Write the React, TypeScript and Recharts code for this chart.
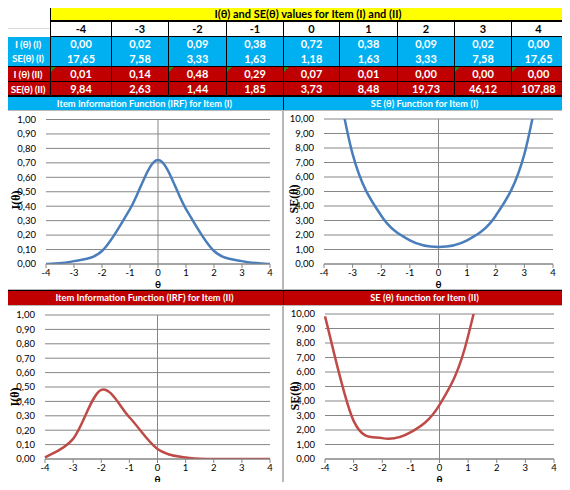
import React from 'react';
import { LineChart, Line, XAxis, YAxis, CartesianGrid, ReferenceLine, Label } from 'recharts';

const thetas = [-4, -3, -2, -1, 0, 1, 2, 3, 4];
const infoItem1 = [0.0, 0.02, 0.09, 0.38, 0.72, 0.38, 0.09, 0.02, 0.0];
const seItem1 = [17.65, 7.58, 3.33, 1.63, 1.18, 1.63, 3.33, 7.58, 17.65];
const infoItem2 = [0.01, 0.14, 0.48, 0.29, 0.07, 0.01, 0.0, 0.0, 0.0];
const seItem2 = [9.84, 2.63, 1.44, 1.85, 3.73, 8.48, 19.73, 46.12, 107.88];

const infoTicks = [0, 0.1, 0.2, 0.3, 0.4, 0.5, 0.6, 0.7, 0.8, 0.9, 1];
const seTicks = [0, 1, 2, 3, 4, 5, 6, 7, 8, 9, 10];

const rowLabels = ['I (θ) (I)', 'SE(θ) (I)', 'I (θ) (II)', 'SE(θ) (II)'];
const rowValues = [infoItem1, seItem1, infoItem2, seItem2];
// cells of the I(θ)(II) row showing Excel's green error marker
const flagged = [true, false, true, true, true, false, false, true, true];

const FONT = 'Lato, "Open Sans", sans-serif';
const BLUE = '#00B0F0';
const RED = '#C00000';
const GRID = '#868686';
const colEdges = [50, 111, 168, 226, 283, 339, 397, 454, 511, 566];
const rowTops = [37, 52, 66, 81, 96];

const fmt = (v: number) => v.toFixed(2).replace('.', ',');

// Excel-style smoothed line (Catmull-Rom as cubic Bezier)
function excelSmooth(context: any) {
  let pts: number[][] = [];
  return {
    areaStart() {},
    areaEnd() {},
    lineStart() {
      pts = [];
    },
    point(x: number, y: number) {
      pts.push([+x, +y]);
    },
    lineEnd() {
      if (!pts.length) return;
      context.moveTo(pts[0][0], pts[0][1]);
      for (let i = 0; i < pts.length - 1; i++) {
        const p0 = pts[Math.max(i - 1, 0)];
        const p1 = pts[i];
        const p2 = pts[i + 1];
        const p3 = pts[Math.min(i + 2, pts.length - 1)];
        context.bezierCurveTo(
          p1[0] + (p2[0] - p0[0]) / 6,
          p1[1] + (p2[1] - p0[1]) / 6,
          p2[0] - (p3[0] - p1[0]) / 6,
          p2[1] - (p3[1] - p1[1]) / 6,
          p2[0],
          p2[1]
        );
      }
    },
  };
}

interface PanelProps {
  values: number[];
  left: number;
  top: number;
  width: number;
  height: number;
  plotLeft: number;
  plotRight: number;
  plotTop: number;
  plotBottom: number;
  ticks: number[];
  color: string;
  yTitle: string;
  titleY: number;
  thetaOffset: number;
}

function Panel(p: PanelProps) {
  const data = thetas.map((t, i) => ({ theta: t, value: p.values[i] }));
  const max = p.ticks[p.ticks.length - 1];
  return (
    <div style={{ position: 'absolute', left: p.left, top: p.top, width: p.width, height: p.height, background: '#fff', overflow: 'hidden' }}>
      <LineChart
        width={p.width}
        height={p.height}
        data={data}
        margin={{ top: p.plotTop, right: p.width - p.plotRight, left: p.plotLeft - 36, bottom: 0 }}
      >
        <CartesianGrid vertical={false} stroke={GRID} />
        <XAxis
          dataKey="theta"
          type="number"
          domain={[-4, 4]}
          ticks={thetas}
          interval={0}
          height={p.height - p.plotBottom}
          stroke={GRID}
          tickSize={4}
          tickMargin={1}
          tick={{ fill: '#000', fontSize: 9.5, fontFamily: FONT }}
        >
          <Label value="θ" position="insideBottom" offset={p.thetaOffset} style={{ fill: '#000', fontSize: 10, fontFamily: FONT, fontWeight: 'bold' }} />
        </XAxis>
        <YAxis
          type="number"
          domain={[0, max]}
          allowDataOverflow
          ticks={p.ticks}
          interval={0}
          width={36}
          axisLine={false}
          tickLine={false}
          tickSize={6}
          tickMargin={4}
          tickFormatter={fmt}
          tick={{ fill: '#000', fontSize: 9.5, fontFamily: FONT }}
        />
        <ReferenceLine x={0} stroke={GRID} />
        <Line dataKey="value" type={excelSmooth as any} stroke={p.color} strokeWidth={2.5} dot={false} isAnimationActive={false} />
      </LineChart>
      <div
        style={{
          position: 'absolute',
          left: p.plotLeft - 50,
          top: p.titleY - 8,
          width: 40,
          height: 16,
          lineHeight: '16px',
          textAlign: 'center',
          transform: 'rotate(-90deg)',
          fontFamily: '"Liberation Serif", serif',
          fontWeight: 'bold',
          fontSize: 12,
        }}
      >
        {p.yTitle}
      </div>
      <div style={{ position: 'absolute', inset: 0, border: '1px solid #b8b8b8', pointerEvents: 'none' }} />
    </div>
  );
}

function Bar({ left, top, width, height, bg, text }: { left: number; top: number; width: number; height: number; bg: string; text: string }) {
  return (
    <div
      style={{
        position: 'absolute',
        left,
        top,
        width,
        height,
        boxSizing: 'border-box',
        background: bg,
        border: '1px solid #000',
        color: '#fff',
        fontFamily: FONT,
        fontWeight: 'bold',
        fontSize: 9.3,
        lineHeight: `${height - 2}px`,
        textAlign: 'center',
      }}
    >
      {text}
    </div>
  );
}

export default function App() {
  const cells: React.ReactNode[] = [];
  // header row
  thetas.forEach((t, i) => {
    cells.push(
      <div
        key={`h${i}`}
        style={{
          position: 'absolute',
          left: colEdges[i],
          top: 22,
          width: colEdges[i + 1] - colEdges[i],
          height: 15,
          boxSizing: 'border-box',
          borderLeft: '1px solid #000',
          borderRight: i === 8 ? '1px solid #000' : undefined,
          borderBottom: '1px solid #000',
          background: '#fff',
          fontFamily: FONT,
          fontWeight: 'bold',
          fontSize: 11,
          lineHeight: '14px',
          textAlign: 'center',
        }}
      >
        {t}
      </div>
    );
  });
  rowValues.forEach((vals, r) => {
    const bg = r < 2 ? BLUE : RED;
    const top = rowTops[r];
    const h = rowTops[r + 1] - top;
    const topBorder = r === 2 || r === 3 ? '1px solid #000' : undefined;
    cells.push(
      <div
        key={`l${r}`}
        style={{
          position: 'absolute',
          left: 5,
          top,
          width: 45,
          height: h,
          boxSizing: 'border-box',
          background: bg,
          borderLeft: '1px solid #000',
          borderTop: topBorder,
          color: '#fff',
          fontFamily: FONT,
          fontWeight: 'bold',
          fontSize: 10,
          letterSpacing: -0.2,
          lineHeight: `${h - 1}px`,
          textAlign: 'center',
          whiteSpace: 'nowrap',
        }}
      >
        {rowLabels[r]}
      </div>
    );
    vals.forEach((v, i) => {
      cells.push(
        <div
          key={`c${r}-${i}`}
          style={{
            position: 'absolute',
            left: colEdges[i],
            top,
            width: colEdges[i + 1] - colEdges[i],
            height: h,
            boxSizing: 'border-box',
            background: bg,
            borderLeft: '1px solid #000',
            borderRight: i === 8 ? '1px solid #000' : undefined,
            borderTop: topBorder,
            color: '#fff',
            fontFamily: FONT,
            fontWeight: 'bold',
            fontSize: 11,
            lineHeight: `${h - 1}px`,
            textAlign: 'center',
          }}
        >
          {r === 2 && flagged[i] && (
            <div
              style={{
                position: 'absolute',
                left: 0,
                top: 0,
                width: 0,
                height: 0,
                borderTop: '5px solid #1E8C1E',
                borderRight: '5px solid transparent',
              }}
            />
          )}
          {fmt(v)}
        </div>
      );
    });
  });

  return (
    <div
      style={{
        position: 'relative',
        width: 570,
        height: 490,
        margin: -8,
        overflow: 'hidden',
        background: '#fff',
        backgroundImage: 'repeating-linear-gradient(to bottom, transparent 0px, transparent 13.5px, #dadcdd 13.5px, #dadcdd 14.5px)',
      }}
    >
      <div style={{ position: 'absolute', left: 0, top: 0, width: 50, height: 22, background: '#fff' }} />
      <div
        style={{
          position: 'absolute',
          left: 50,
          top: 5,
          width: 516,
          height: 17,
          boxSizing: 'border-box',
          background: '#FFFF00',
          border: '1px solid #000',
          borderTopWidth: 2,
          borderBottomWidth: 2,
          fontFamily: FONT,
          fontWeight: 'bold',
          fontSize: 11,
          lineHeight: '13px',
          textAlign: 'center',
        }}
      >
        I(θ) and SE(θ) values for Item (I) and (II)
      </div>
      {cells}
      <div style={{ position: 'absolute', left: 5, top: 95, width: 561, height: 1, background: '#000' }} />
      <Bar left={5} top={96} width={279} height={15} bg={BLUE} text="Item Information Function (IRF) for Item (I)" />
      <Bar left={283} top={96} width={283} height={15} bg={BLUE} text="SE (θ) Function for Item (I)" />
      <Panel values={infoItem1} left={5} top={110} width={278} height={180} plotLeft={41} plotRight={265} plotTop={9.5} plotBottom={154} ticks={infoTicks} color="#4A7EBB" yTitle="I(θ)" titleY={90} thetaOffset={2} />
      <Panel values={seItem1} left={283} top={110} width={283} height={180} plotLeft={41} plotRight={270} plotTop={9} plotBottom={154} ticks={seTicks} color="#4A7EBB" yTitle="SE(θ)" titleY={89} thetaOffset={2} />
      <Bar left={5} top={290} width={279} height={16} bg={RED} text="Item Information Function (IRF) for Item (II)" />
      <Bar left={283} top={290} width={283} height={16} bg={RED} text="SE (θ) function for Item (II)" />
      <Panel values={infoItem2} left={5} top={305} width={278} height={185} plotLeft={40} plotRight={265} plotTop={10} plotBottom={154} ticks={infoTicks} color="#BE4B48" yTitle="I(θ)" titleY={92} thetaOffset={7} />
      <Panel values={seItem2} left={283} top={305} width={283} height={185} plotLeft={42} plotRight={271} plotTop={9} plotBottom={154} ticks={seTicks} color="#BE4B48" yTitle="SE(θ)" titleY={91} thetaOffset={7} />
      <div style={{ position: 'absolute', left: 111, top: 487, width: 343, height: 6, boxSizing: 'border-box', background: '#FFFF00', border: '1px solid #000' }} />
    </div>
  );
}
